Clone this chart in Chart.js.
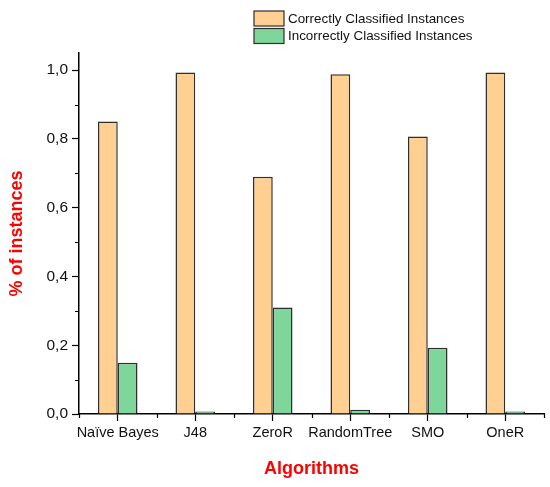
<!DOCTYPE html>
<html>
<head>
<meta charset="utf-8">
<script src="https://cdn.jsdelivr.net/npm/chart.js@4/dist/chart.umd.min.js"></script>
<style>
  html, body { margin: 0; padding: 0; background: #fff; }
  #wrap { width: 550px; height: 487px; position: relative; }
</style>
</head>
<body>
<div id="wrap"><canvas id="barChart"></canvas></div>
<script>
const algorithms = ['Naïve Bayes', 'J48', 'ZeroR', 'RandomTree', 'SMO', 'OneR'];
const correctly = [0.851, 0.993, 0.690, 0.988, 0.807, 0.993];
const incorrectly = [0.149, 0.007, 0.310, 0.012, 0.193, 0.007];
const seriesNames = ['Correctly Classified Instances', 'Incorrectly Classified Instances'];
const yMinorTicks = [0.1, 0.3, 0.5, 0.7, 0.9];

const ORANGE = '#ffd092';
const GREEN = '#7fd69a';
const EDGE = '#2e2e2e';

// legend stacked in two rows, drawn above the plot
const stackedLegend = {
  id: 'stackedLegend',
  afterDraw(chart) {
    const c = chart.ctx;
    c.save();
    c.font = '13.4px "Liberation Sans", Arial, sans-serif';
    c.textBaseline = 'middle';
    chart.data.datasets.forEach((ds, i) => {
      const y = 11 + i * 17.5;
      c.fillStyle = ds.backgroundColor;
      c.strokeStyle = EDGE;
      c.lineWidth = 1.2;
      c.fillRect(254, y, 30, 15);
      c.strokeRect(254, y, 30, 15);
      c.fillStyle = '#111';
      c.fillText(ds.label, 288, y + 8);
    });
    c.restore();
  }
};

// short minor ticks, placed with the scales
const minorTicks = {
  id: 'minorTicks',
  afterDraw(chart) {
    const c = chart.ctx;
    const x = chart.scales.x;
    const y = chart.scales.y;
    c.save();
    c.strokeStyle = '#000';
    c.lineWidth = 1.2;
    c.beginPath();
    yMinorTicks.forEach((v) => {
      const py = Math.round(y.getPixelForValue(v)) + 0.5;
      c.moveTo(x.left, py);
      c.lineTo(x.left - 4, py);
    });
    for (let i = 0; i <= algorithms.length; i++) {
      let px;
      if (i === 0) px = x.left;
      else if (i === algorithms.length) px = x.right;
      else px = (x.getPixelForTick(i - 1) + x.getPixelForTick(i)) / 2;
      px = Math.round(px) + 0.5;
      c.moveTo(px, x.top);
      c.lineTo(px, x.top + 4);
    }
    c.stroke();
    c.restore();
  }
};

const ctx = document.getElementById('barChart');

const data = {
  labels: algorithms,
  datasets: [
    {
      label: seriesNames[0],
      data: correctly,
      backgroundColor: ORANGE,
      borderColor: EDGE,
      borderWidth: 1.5,
    },
    {
      label: seriesNames[1],
      data: incorrectly,
      backgroundColor: GREEN,
      borderColor: EDGE,
      borderWidth: 1.5,
    },
  ],
};

const config = {
  type: 'bar',
  data: data,
  options: {
    responsive: true,
    maintainAspectRatio: false,
    animation: false,
    datasets: {
      bar: {
        categoryPercentage: 0.51,
        barPercentage: 1.0,
      },
    },
    layout: {
      padding: { top: 53, right: 6, left: 0, bottom: 0 },
    },
    plugins: {
      legend: { display: false },
      tooltip: { enabled: false },
    },
    scales: {
      x: {
        offset: true,
        afterFit: (scale) => { scale.height = 73; },
        border: { color: '#000', width: 1.5 },
        grid: {
          offset: false,
          drawOnChartArea: false,
          drawTicks: true,
          tickLength: 7,
          tickColor: '#000',
          tickWidth: 1.2,
        },
        ticks: {
          color: '#111',
          padding: 3,
          maxRotation: 0,
          autoSkip: false,
          font: { family: '"Liberation Sans", Arial, sans-serif', size: 14.5 },
        },
        title: {
          display: true,
          text: 'Algorithms',
          color: '#ff0000',
          padding: { top: 0, bottom: 7 },
          font: { family: '"Liberation Sans", Arial, sans-serif', size: 18, weight: 'bold' },
        },
      },
      y: {
        min: 0,
        max: 1.05,
        afterFit: (scale) => { scale.width = 79; },
        afterBuildTicks: (scale) => {
          scale.ticks = scale.ticks.filter((t) => t.value <= 1.0001);
        },
        border: { color: '#000', width: 1.5 },
        grid: {
          drawOnChartArea: false,
          drawTicks: true,
          tickLength: 7,
          tickColor: '#000',
          tickWidth: 1.2,
        },
        ticks: {
          stepSize: 0.2,
          includeBounds: false,
          autoSkip: false,
          color: '#111',
          padding: 4,
          font: { family: '"Liberation Sans", Arial, sans-serif', size: 15.5 },
          callback: (val) => val.toFixed(1).replace('.', ','),
        },
        title: {
          display: true,
          text: '% of instances',
          color: '#ff0000',
          padding: { top: 6, bottom: 0 },
          font: { family: '"Liberation Sans", Arial, sans-serif', size: 18, weight: 'bold' },
        },
      },
    },
  },
  plugins: [stackedLegend, minorTicks],
};

const myChart = new Chart(ctx, config);
</script>
</body>
</html>
